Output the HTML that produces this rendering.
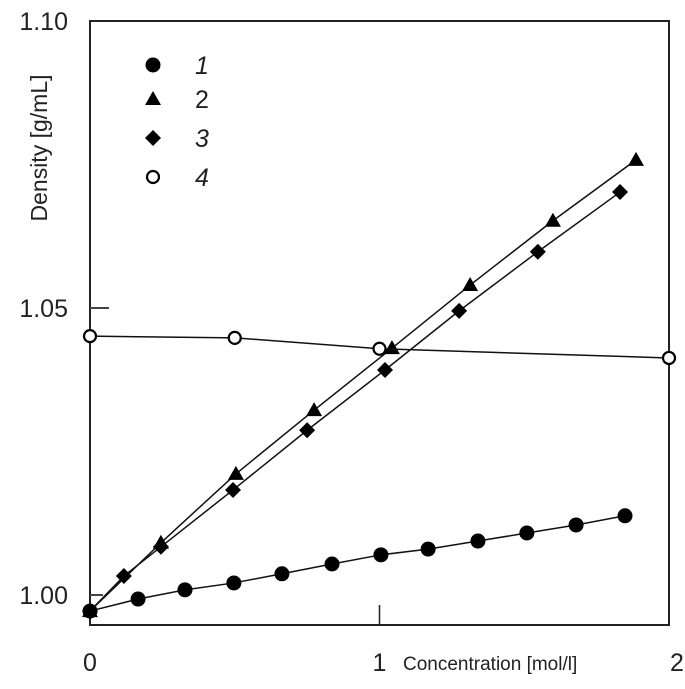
<!DOCTYPE html>
<html><head><meta charset="utf-8"><style>
body{margin:0;background:#fff}
svg{display:block;font-family:"Liberation Sans",Arial,sans-serif}
</style></head><body>
<svg id="chart" width="685" height="689" viewBox="0 0 685 689">
<g id="axes"></g><g id="series"></g><g id="legend"></g>
</svg>
<script>
const s1x=[0,0.166,0.328,0.497,0.663,0.836,1.005,1.168,1.340,1.509,1.679,1.848];
const s1y=[0.9972,0.9993,1.0009,1.0021,1.0037,1.0054,1.0070,1.0080,1.0094,1.0108,1.0122,1.0138];
const s2x=[0,0.245,0.504,0.774,1.043,1.313,1.599,1.886];
const s2y=[0.9972,1.0091,1.0211,1.0322,1.0430,1.0540,1.0652,1.0758];
const s3x=[0,0.117,0.245,0.494,0.750,1.019,1.275,1.547,1.831];
const s3y=[0.9972,1.0033,1.0084,1.0183,1.0287,1.0392,1.0495,1.0598,1.0702];
const s4x=[0,0.5,1,2];
const s4y=[1.0451,1.0448,1.0429,1.0413];
const yTicks=[1.00,1.05,1.10];
const yTickLabels=["1.00","1.05","1.10"];
const xTicks=[0,1,2];
const xTickLabels=["0","1","2"];
const legendLabels=["1","2","3","4"];

const NS="http://www.w3.org/2000/svg";
const X0=90,X1=669,Y0=625,Yt=21;
const sx=v=>X0+v*(X1-X0)/2;
const sy=v=>595-(v-1.00)*5740;
function mk(tag,attrs,parent,text){const e=document.createElementNS(NS,tag);for(const k in attrs)e.setAttribute(k,attrs[k]);if(text!==undefined)e.textContent=text;parent.appendChild(e);return e;}
const axes=document.getElementById('axes'),ser=document.getElementById('series'),leg=document.getElementById('legend');

let fr=mk('rect',{x:X0,y:Yt,width:X1-X0,height:Y0-Yt,fill:'none',stroke:'#222','stroke-width':2},axes);



yTicks.forEach((v,i)=>{
  const y=sy(v);
  if(i<2){let t=mk('line',{x1:X0,x2:X0+(i===1?19:13),y1:y,y2:y,stroke:'#444','stroke-width':2},axes);
  
  }
  let l=mk('text',{x:68,y:y+9,'font-size':25,'text-anchor':'end',fill:'#222'},axes,yTickLabels[i]);
  
  
});
xTicks.forEach((v,i)=>{
  const x=sx(v);
  if(i===1){let t=mk('line',{x1:x,x2:x,y1:Y0,y2:Y0-20,stroke:'#222','stroke-width':1.5},axes);
  
  }
  let l=mk('text',{x:i===2?x+8:x,y:671,'font-size':25,'text-anchor':'middle',fill:'#222'},axes,xTickLabels[i]);
  
  
});
let xt=mk('text',{x:403,y:670,'font-size':19,fill:'#222'},axes,'Concentration [mol/l]');


let yt=mk('text',{x:0,y:0,'font-size':23,'text-anchor':'middle',fill:'#222',transform:'translate(47,148) rotate(-90)'},axes,'Density [g/mL]');



function marker(kind,x,y,p,name){
  let e;
  if(kind==='c')e=mk('circle',{cx:x,cy:y,r:7.5,fill:'#000'},p);
  else if(kind==='t')e=mk('polygon',{points:`${x},${y-8} ${x+8},${y+6} ${x-8},${y+6}`,fill:'#000'},p);
  else if(kind==='d')e=mk('polygon',{points:`${x},${y-8} ${x+8},${y} ${x},${y+8} ${x-8},${y}`,fill:'#000'},p);
  else e=mk('circle',{cx:x,cy:y,r:6,fill:'#fff',stroke:'#000','stroke-width':2.2},p);
  
  
}
function series(xs,ys,kind,name){
  let pts=xs.map((v,i)=>sx(v)+','+sy(ys[i])).join(' ');
  let pl=mk('polyline',{points:pts,fill:'none',stroke:'#111','stroke-width':1.5},ser);
  
  
  xs.forEach((v,i)=>marker(kind,sx(v),sy(ys[i]),ser,name+'-point'));
}
series(s1x,s1y,'c','series-1');
series(s2x,s2y,'t','series-2');
series(s3x,s3y,'d','series-3');
series(s4x,s4y,'o','series-4');

const kinds=['c','t','d','o'],ly=[65,99,138,177];
legendLabels.forEach((t,i)=>{
  marker(kinds[i],153,ly[i],leg,'legend-marker-'+t);
  let l=mk('text',{x:195,y:ly[i]+9,'font-size':25,'font-style':i===1?'normal':'italic',fill:'#222'},leg,t);
  
  
});
</script>
</body></html>
